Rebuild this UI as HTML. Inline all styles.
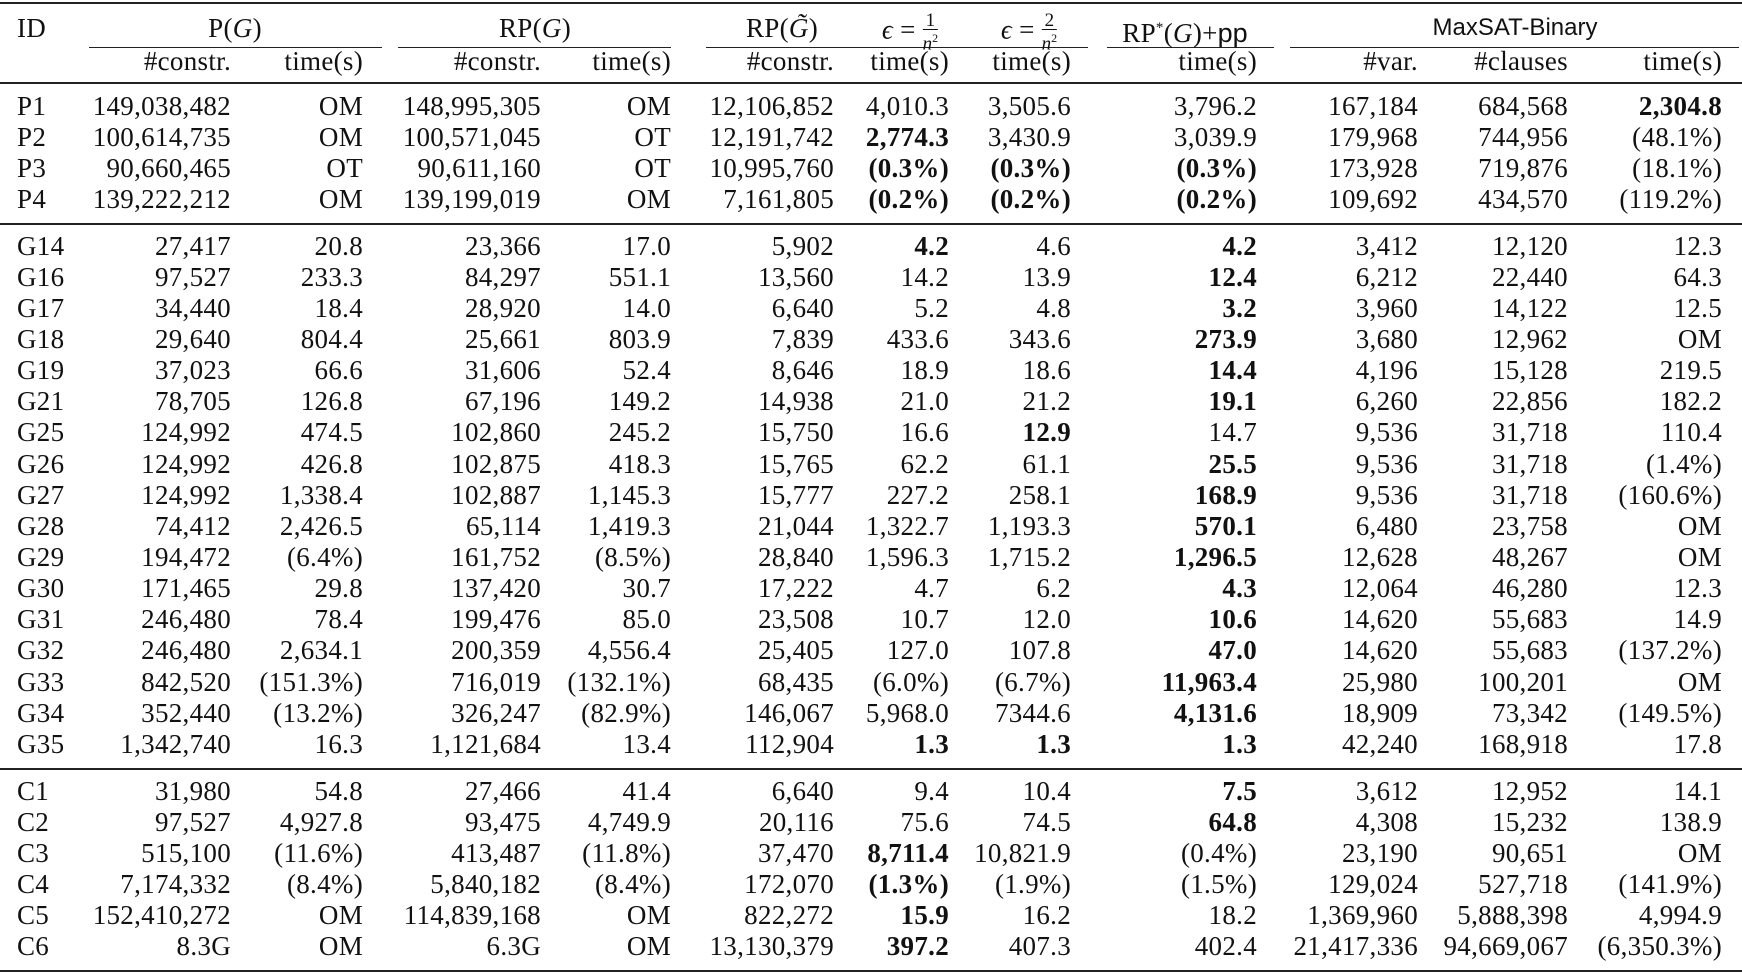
<!DOCTYPE html>
<html><head><meta charset="utf-8"><style>
body{margin:0;width:1742px;height:974px;background:#fff;position:relative;overflow:hidden;font-family:"Liberation Serif",serif;color:#111;font-size:27px;letter-spacing:0.3px}
.r{position:absolute;left:0;width:1742px;background:#222}
.h{position:absolute;white-space:nowrap;line-height:30px}
table{position:absolute;left:0;border-collapse:collapse;table-layout:fixed;width:1742px}
td{height:31.15px;padding:0;line-height:31px;text-align:right;white-space:nowrap}
td:first-child{text-align:left;padding-left:17px}
b{font-weight:bold}
.fr{display:inline-block;vertical-align:middle;text-align:center;font-size:19px;line-height:17px;letter-spacing:0}
.fr span{display:block}
.fr .n{border-bottom:1px solid #111;padding:0 2px}
i{font-style:italic}
.sans{font-family:"Liberation Sans",sans-serif;letter-spacing:0}
</style></head><body>
<div class="r" style="top:2px;height:2px"></div>
<div class="r" style="top:82px;height:1.5px"></div>
<div class="r" style="top:223px;height:1.5px"></div>
<div class="r" style="top:768px;height:1.5px"></div>
<div class="r" style="top:970px;height:2px"></div>
<div class="r" style="top:47px;height:1.3px;left:89px;width:293px"></div>
<div class="r" style="top:47px;height:1.3px;left:398px;width:273px"></div>
<div class="r" style="top:47px;height:1.3px;left:706px;width:382px"></div>
<div class="r" style="top:47px;height:1.3px;left:1107px;width:167px"></div>
<div class="r" style="top:47px;height:1.3px;left:1290px;width:449px"></div>

<div class="h" style="left:17px;top:13px">ID</div>
<div class="h" style="left:235px;top:13px;transform:translateX(-50%)">P(<i>G</i>)</div>
<div class="h" style="left:535px;top:13px;transform:translateX(-50%)">RP(<i>G</i>)</div>
<div class="h" style="left:782px;top:13px;transform:translateX(-50%)">RP(<i>G&#771;</i>)</div>
<div class="h" style="left:910px;top:12px;transform:translateX(-50%)"><i>ϵ</i> = <span class="fr"><span class="n">1</span><span><i>n</i><sup style="font-size:12px">2</sup></span></span></div>
<div class="h" style="left:1029px;top:12px;transform:translateX(-50%)"><i>ϵ</i> = <span class="fr"><span class="n">2</span><span><i>n</i><sup style="font-size:12px">2</sup></span></span></div>
<div class="h" style="left:1185px;top:13px;transform:translateX(-50%)">RP<sup style="font-size:15px">*</sup>(<i>G</i>)+<span class="sans">pp</span></div>
<div class="h sans" style="left:1515px;top:13px;transform:translateX(-50%);font-size:24px">MaxSAT-Binary</div>

<table style="top:46px"><colgroup><col style="width:60px"><col style="width:171px"><col style="width:132px"><col style="width:178px"><col style="width:130px"><col style="width:163px"><col style="width:115px"><col style="width:122px"><col style="width:186px"><col style="width:161px"><col style="width:150px"><col style="width:154px"><col style="width:20px"></colgroup>
<tr><td></td><td>#constr.</td><td>time(s)</td><td>#constr.</td><td>time(s)</td><td>#constr.</td><td>time(s)</td><td>time(s)</td><td>time(s)</td><td>#var.</td><td>#clauses</td><td>time(s)</td><td></td></tr>
</table>

<table style="top:90.5px"><colgroup><col style="width:60px"><col style="width:171px"><col style="width:132px"><col style="width:178px"><col style="width:130px"><col style="width:163px"><col style="width:115px"><col style="width:122px"><col style="width:186px"><col style="width:161px"><col style="width:150px"><col style="width:154px"><col style="width:20px"></colgroup>
<tr><td>P1</td><td>149,038,482</td><td>OM</td><td>148,995,305</td><td>OM</td><td>12,106,852</td><td>4,010.3</td><td>3,505.6</td><td>3,796.2</td><td>167,184</td><td>684,568</td><td><b>2,304.8</b></td><td></td></tr>
<tr><td>P2</td><td>100,614,735</td><td>OM</td><td>100,571,045</td><td>OT</td><td>12,191,742</td><td><b>2,774.3</b></td><td>3,430.9</td><td>3,039.9</td><td>179,968</td><td>744,956</td><td>(48.1%)</td><td></td></tr>
<tr><td>P3</td><td>90,660,465</td><td>OT</td><td>90,611,160</td><td>OT</td><td>10,995,760</td><td><b>(0.3%)</b></td><td><b>(0.3%)</b></td><td><b>(0.3%)</b></td><td>173,928</td><td>719,876</td><td>(18.1%)</td><td></td></tr>
<tr><td>P4</td><td>139,222,212</td><td>OM</td><td>139,199,019</td><td>OM</td><td>7,161,805</td><td><b>(0.2%)</b></td><td><b>(0.2%)</b></td><td><b>(0.2%)</b></td><td>109,692</td><td>434,570</td><td>(119.2%)</td><td></td></tr>
</table>

<table style="top:230.5px"><colgroup><col style="width:60px"><col style="width:171px"><col style="width:132px"><col style="width:178px"><col style="width:130px"><col style="width:163px"><col style="width:115px"><col style="width:122px"><col style="width:186px"><col style="width:161px"><col style="width:150px"><col style="width:154px"><col style="width:20px"></colgroup>
<tr><td>G14</td><td>27,417</td><td>20.8</td><td>23,366</td><td>17.0</td><td>5,902</td><td><b>4.2</b></td><td>4.6</td><td><b>4.2</b></td><td>3,412</td><td>12,120</td><td>12.3</td><td></td></tr>
<tr><td>G16</td><td>97,527</td><td>233.3</td><td>84,297</td><td>551.1</td><td>13,560</td><td>14.2</td><td>13.9</td><td><b>12.4</b></td><td>6,212</td><td>22,440</td><td>64.3</td><td></td></tr>
<tr><td>G17</td><td>34,440</td><td>18.4</td><td>28,920</td><td>14.0</td><td>6,640</td><td>5.2</td><td>4.8</td><td><b>3.2</b></td><td>3,960</td><td>14,122</td><td>12.5</td><td></td></tr>
<tr><td>G18</td><td>29,640</td><td>804.4</td><td>25,661</td><td>803.9</td><td>7,839</td><td>433.6</td><td>343.6</td><td><b>273.9</b></td><td>3,680</td><td>12,962</td><td>OM</td><td></td></tr>
<tr><td>G19</td><td>37,023</td><td>66.6</td><td>31,606</td><td>52.4</td><td>8,646</td><td>18.9</td><td>18.6</td><td><b>14.4</b></td><td>4,196</td><td>15,128</td><td>219.5</td><td></td></tr>
<tr><td>G21</td><td>78,705</td><td>126.8</td><td>67,196</td><td>149.2</td><td>14,938</td><td>21.0</td><td>21.2</td><td><b>19.1</b></td><td>6,260</td><td>22,856</td><td>182.2</td><td></td></tr>
<tr><td>G25</td><td>124,992</td><td>474.5</td><td>102,860</td><td>245.2</td><td>15,750</td><td>16.6</td><td><b>12.9</b></td><td>14.7</td><td>9,536</td><td>31,718</td><td>110.4</td><td></td></tr>
<tr><td>G26</td><td>124,992</td><td>426.8</td><td>102,875</td><td>418.3</td><td>15,765</td><td>62.2</td><td>61.1</td><td><b>25.5</b></td><td>9,536</td><td>31,718</td><td>(1.4%)</td><td></td></tr>
<tr><td>G27</td><td>124,992</td><td>1,338.4</td><td>102,887</td><td>1,145.3</td><td>15,777</td><td>227.2</td><td>258.1</td><td><b>168.9</b></td><td>9,536</td><td>31,718</td><td>(160.6%)</td><td></td></tr>
<tr><td>G28</td><td>74,412</td><td>2,426.5</td><td>65,114</td><td>1,419.3</td><td>21,044</td><td>1,322.7</td><td>1,193.3</td><td><b>570.1</b></td><td>6,480</td><td>23,758</td><td>OM</td><td></td></tr>
<tr><td>G29</td><td>194,472</td><td>(6.4%)</td><td>161,752</td><td>(8.5%)</td><td>28,840</td><td>1,596.3</td><td>1,715.2</td><td><b>1,296.5</b></td><td>12,628</td><td>48,267</td><td>OM</td><td></td></tr>
<tr><td>G30</td><td>171,465</td><td>29.8</td><td>137,420</td><td>30.7</td><td>17,222</td><td>4.7</td><td>6.2</td><td><b>4.3</b></td><td>12,064</td><td>46,280</td><td>12.3</td><td></td></tr>
<tr><td>G31</td><td>246,480</td><td>78.4</td><td>199,476</td><td>85.0</td><td>23,508</td><td>10.7</td><td>12.0</td><td><b>10.6</b></td><td>14,620</td><td>55,683</td><td>14.9</td><td></td></tr>
<tr><td>G32</td><td>246,480</td><td>2,634.1</td><td>200,359</td><td>4,556.4</td><td>25,405</td><td>127.0</td><td>107.8</td><td><b>47.0</b></td><td>14,620</td><td>55,683</td><td>(137.2%)</td><td></td></tr>
<tr><td>G33</td><td>842,520</td><td>(151.3%)</td><td>716,019</td><td>(132.1%)</td><td>68,435</td><td>(6.0%)</td><td>(6.7%)</td><td><b>11,963.4</b></td><td>25,980</td><td>100,201</td><td>OM</td><td></td></tr>
<tr><td>G34</td><td>352,440</td><td>(13.2%)</td><td>326,247</td><td>(82.9%)</td><td>146,067</td><td>5,968.0</td><td>7344.6</td><td><b>4,131.6</b></td><td>18,909</td><td>73,342</td><td>(149.5%)</td><td></td></tr>
<tr><td>G35</td><td>1,342,740</td><td>16.3</td><td>1,121,684</td><td>13.4</td><td>112,904</td><td><b>1.3</b></td><td><b>1.3</b></td><td><b>1.3</b></td><td>42,240</td><td>168,918</td><td>17.8</td><td></td></tr>
</table>

<table style="top:775.5px"><colgroup><col style="width:60px"><col style="width:171px"><col style="width:132px"><col style="width:178px"><col style="width:130px"><col style="width:163px"><col style="width:115px"><col style="width:122px"><col style="width:186px"><col style="width:161px"><col style="width:150px"><col style="width:154px"><col style="width:20px"></colgroup>
<tr><td>C1</td><td>31,980</td><td>54.8</td><td>27,466</td><td>41.4</td><td>6,640</td><td>9.4</td><td>10.4</td><td><b>7.5</b></td><td>3,612</td><td>12,952</td><td>14.1</td><td></td></tr>
<tr><td>C2</td><td>97,527</td><td>4,927.8</td><td>93,475</td><td>4,749.9</td><td>20,116</td><td>75.6</td><td>74.5</td><td><b>64.8</b></td><td>4,308</td><td>15,232</td><td>138.9</td><td></td></tr>
<tr><td>C3</td><td>515,100</td><td>(11.6%)</td><td>413,487</td><td>(11.8%)</td><td>37,470</td><td><b>8,711.4</b></td><td>10,821.9</td><td>(0.4%)</td><td>23,190</td><td>90,651</td><td>OM</td><td></td></tr>
<tr><td>C4</td><td>7,174,332</td><td>(8.4%)</td><td>5,840,182</td><td>(8.4%)</td><td>172,070</td><td><b>(1.3%)</b></td><td>(1.9%)</td><td>(1.5%)</td><td>129,024</td><td>527,718</td><td>(141.9%)</td><td></td></tr>
<tr><td>C5</td><td>152,410,272</td><td>OM</td><td>114,839,168</td><td>OM</td><td>822,272</td><td><b>15.9</b></td><td>16.2</td><td>18.2</td><td>1,369,960</td><td>5,888,398</td><td>4,994.9</td><td></td></tr>
<tr><td>C6</td><td>8.3G</td><td>OM</td><td>6.3G</td><td>OM</td><td>13,130,379</td><td><b>397.2</b></td><td>407.3</td><td>402.4</td><td>21,417,336</td><td>94,669,067</td><td>(6,350.3%)</td><td></td></tr>
</table>
</body></html>
